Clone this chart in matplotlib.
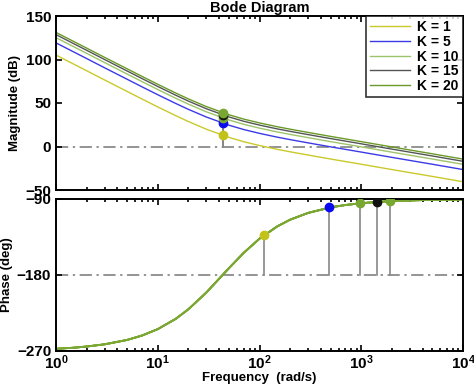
import numpy as np
import matplotlib
matplotlib.use("Agg")
import matplotlib.pyplot as plt
from matplotlib.ticker import LogLocator, NullFormatter

plt.rcParams["font.family"] = ["Liberation Sans", "DejaVu Sans"]
plt.rcParams["font.weight"] = "bold"

# ---- data ----
gains = ["K = 1", "K = 5", "K = 10", "K = 15", "K = 20"]
colors = ["#c9c92a", "#3a3ae6", "#9cc46a", "#555555", "#6a9a28"]
marker_colors = ["#c2c21a", "#0a0af0", "#78a832", "#111111", "#78a832"]

w_mag = [1, 2, 3, 5, 7, 10, 15, 20, 30, 50, 70, 100, 150, 200, 300, 500, 700,
         1000, 2000, 5000, 10000]
mag_k1 = [105.1, 87.1, 76.5, 63.3, 54.6, 45.5, 35.5, 28.7, 19.9, 10.5, 5.5, 1.1,
          -3.3, -6.1, -9.8, -14.4, -17.3, -20.4, -26.5, -34.4, -40.5]
mag_k5 = [119.1, 101.1, 90.5, 77.3, 68.6, 59.5, 49.5, 42.7, 33.9, 24.5, 19.5, 15.1,
          10.7, 7.9, 4.2, -0.4, -3.3, -6.4, -12.5, -20.4, -26.5]
mag_k10 = [125.1, 107.1, 96.5, 83.3, 74.6, 65.5, 55.5, 48.7, 39.9, 30.5, 25.5, 21.1,
           16.7, 13.9, 10.2, 5.6, 2.7, -0.4, -6.5, -14.4, -20.5]
mag_k15 = [128.6, 110.6, 100.0, 86.8, 78.1, 69.0, 59.0, 52.2, 43.4, 34.0, 29.0, 24.6,
           20.2, 17.4, 13.7, 9.1, 6.2, 3.1, -3.0, -10.9, -17.0]
mag_k20 = [131.1, 113.1, 102.5, 89.3, 80.6, 71.5, 61.5, 54.7, 45.9, 36.5, 31.5, 27.1,
           22.7, 19.9, 16.2, 11.6, 8.7, 5.6, -0.5, -8.4, -14.5]
mags = [mag_k1, mag_k5, mag_k10, mag_k15, mag_k20]

w_ph = [1, 1.5, 2, 3, 5, 7, 10, 15, 20, 30, 50, 70, 100, 150, 200, 300, 500,
        700, 1000, 1500, 2000, 3000, 5000, 7000, 10000]
phase = [-267.4, -266.1, -264.7, -262.1, -256.9, -251.7, -244.1, -232.0, -220.6,
         -200.8, -172.0, -153.7, -137.0, -122.3, -114.5, -106.5, -99.9, -97.1,
         -95.0, -93.3, -92.5, -91.7, -91.0, -90.7, -90.5]

# gain margin points (phase crossover) and phase margin points (gain crossover)
gm_freq = 43.5
gm_mag = [12.8, 26.8, 32.8, 36.3, 38.8]
pm_freq = [110, 480, 970, 1440, 1930]
pm_phase = [-133.0, -100.0, -95.1, -93.5, -92.6]

fig = plt.figure(figsize=(4.74, 3.87), dpi=100)
ax1 = fig.add_axes([56 / 474, 1 - 190 / 387, 407 / 474, 174 / 387])
ax2 = fig.add_axes([56 / 474, 1 - 351 / 387, 407 / 474, 152 / 387])

for lab, col, m in zip(gains, colors, mags):
    ax1.plot(w_mag, m, color=col, lw=1.0, label=lab)
ax1.axhline(0, color="#777777", lw=1.1, ls=(0, (8, 3, 1.5, 3)), zorder=1)
for col, g in zip(marker_colors, gm_mag):
    ax1.plot([gm_freq, gm_freq], [0, g], color="#888888", lw=1.2, zorder=2)
for col, g in zip(marker_colors, gm_mag):
    ax1.plot(gm_freq, g, "o", color=col, ms=6, zorder=3)

for col in colors:
    ax2.plot(w_ph, phase, color="#7aa832", lw=1.3)
ax2.axhline(-180, color="#777777", lw=1.1, ls=(0, (8, 3, 1.5, 3)), zorder=1)
for col, f, p in zip(marker_colors, pm_freq, pm_phase):
    ax2.plot([f, f], [-180, p], color="#888888", lw=1.2, zorder=2)
    ax2.plot(f, p, "o", color=col, ms=6, zorder=3)

for ax in (ax1, ax2):
    ax.set_xscale("log")
    ax.set_xlim(1, 1e4)
    ax.tick_params(direction="in", which="both", top=True, right=True,
                   labelsize=11, width=1.2)
    ax.tick_params(which="major", length=4)
    ax.tick_params(which="minor", length=2.5)
    ax.xaxis.set_minor_locator(LogLocator(base=10, subs=np.arange(2, 10)))
    ax.xaxis.set_minor_formatter(NullFormatter())
    for s in ax.spines.values():
        s.set_linewidth(1.4)

ax1.set_ylim(-50, 150)
ax1.set_yticks([-50, 0, 50, 100, 150])
ax1.tick_params(labelbottom=False)
ax1.set_ylabel("Magnitude (dB)", fontsize=9.5, fontweight="bold", labelpad=3)
ax1.set_title("Bode Diagram", fontsize=10.5, fontweight="bold", pad=3)
leg = ax1.legend(loc="upper right", fontsize=10, frameon=True, fancybox=False,
                 edgecolor="black", handlelength=2.9, borderpad=0.3,
                 labelspacing=0.05, borderaxespad=0, handletextpad=0.5)
leg.get_frame().set_linewidth(1.2)

ax2.set_ylim(-270, -90)
ax2.set_yticks([-270, -180, -90])
ax2.tick_params(axis="x", pad=2)
ax2.set_ylabel("Phase (deg)", fontsize=9.5, fontweight="bold", labelpad=3)
ax2.set_xlabel("Frequency  (rad/s)", fontsize=9.5, fontweight="bold")
ax2.xaxis.set_label_coords(0.5, -0.135)

fig.savefig("out.png", dpi=100)
